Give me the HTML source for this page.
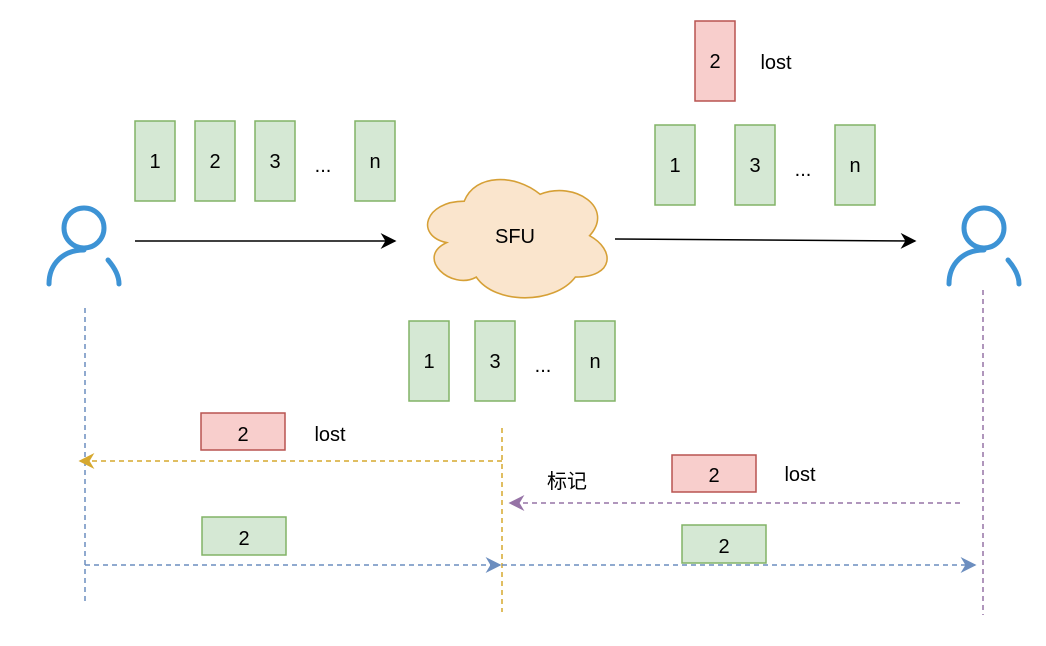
<!DOCTYPE html>
<html><head><meta charset="utf-8"><style>body{margin:0;background:#fff}svg{display:block}text{font-family:"Liberation Sans","Noto Sans CJK SC",sans-serif;font-size:20px;fill:#000}</style></head><body>
<svg width="1046" height="646" viewBox="0 0 1046 646" xmlns="http://www.w3.org/2000/svg">
<defs>
<marker id="ab" viewBox="0 0 10 10" refX="9" refY="5" markerWidth="16" markerHeight="16" orient="auto" markerUnits="userSpaceOnUse"><path d="M0,0 L10,5 L0,10 L3,5Z" fill="#000"/></marker>
<marker id="ao" viewBox="0 0 10 10" refX="9" refY="5" markerWidth="16" markerHeight="16" orient="auto" markerUnits="userSpaceOnUse"><path d="M0,0 L10,5 L0,10 L3,5Z" fill="#d6a82f"/></marker>
<marker id="ap" viewBox="0 0 10 10" refX="9" refY="5" markerWidth="16" markerHeight="16" orient="auto" markerUnits="userSpaceOnUse"><path d="M0,0 L10,5 L0,10 L3,5Z" fill="#9673a6"/></marker>
<marker id="abl" viewBox="0 0 10 10" refX="9" refY="5" markerWidth="16" markerHeight="16" orient="auto" markerUnits="userSpaceOnUse"><path d="M0,0 L10,5 L0,10 L3,5Z" fill="#6c8ebf"/></marker>
</defs>
<g fill="none" stroke="#3d93d5" stroke-width="5" stroke-linecap="round">
<circle cx="84" cy="228" r="20"/><path d="M49,284 C49,264 63,250 84,250"/><path d="M108,260 C114,267 119,275 119,284"/>
<circle cx="984" cy="228" r="20"/><path d="M949,284 C949,264 963,250 984,250"/><path d="M1008,260 C1014,267 1019,275 1019,284"/>
</g>
<g transform="translate(517,238) scale(1.1,1.15) translate(-520,-240)">
<path d="M472,208 C436,208 427,238 456,244 C427,257 460,286 483,274 C500,298 554,298 573,274 C609,274 609,250 586,238 C609,214 573,190 541,202 C518,184 482,184 472,208Z" fill="#fae5cd" stroke="#d6a036" stroke-width="1.4"/>
</g>
<text x="515" y="243" text-anchor="middle">SFU</text>
<g stroke="#82b366" fill="#d5e8d4" stroke-width="1.5">
<rect x="135" y="121" width="40" height="80"/><rect x="195" y="121" width="40" height="80"/><rect x="255" y="121" width="40" height="80"/><rect x="355" y="121" width="40" height="80"/>
<rect x="655" y="125" width="40" height="80"/><rect x="735" y="125" width="40" height="80"/><rect x="835" y="125" width="40" height="80"/>
<rect x="409" y="321" width="40" height="80"/><rect x="475" y="321" width="40" height="80"/><rect x="575" y="321" width="40" height="80"/>
<rect x="202" y="517" width="84" height="38"/><rect x="682" y="525" width="84" height="38"/>
</g>
<g stroke="#b85450" fill="#f8cecc" stroke-width="1.5">
<rect x="695" y="21" width="40" height="80"/><rect x="201" y="413" width="84" height="37"/><rect x="672" y="455" width="84" height="37"/>
</g>
<g text-anchor="middle">
<text x="155" y="168">1</text><text x="215" y="168">2</text><text x="275" y="168">3</text><text x="323" y="172">...</text><text x="375" y="168">n</text>
<text x="675" y="172">1</text><text x="755" y="172">3</text><text x="803" y="176">...</text><text x="855" y="172">n</text>
<text x="715" y="68">2</text><text x="776" y="69">lost</text>
<text x="429" y="368">1</text><text x="495" y="368">3</text><text x="543" y="372">...</text><text x="595" y="368">n</text>
<text x="243" y="441">2</text><text x="330" y="441">lost</text>
<text x="714" y="482">2</text><text x="800" y="481">lost</text>
<text x="567" y="488">标记</text>
<text x="244" y="545">2</text><text x="724" y="553">2</text>
</g>
<line x1="135" y1="241" x2="395" y2="241" stroke="#000" stroke-width="1.5" marker-end="url(#ab)"/>
<line x1="615" y1="239" x2="915" y2="241" stroke="#000" stroke-width="1.5" marker-end="url(#ab)"/>
<g fill="none" stroke-width="1.5" stroke-dasharray="5,4">
<line x1="85" y1="308" x2="85" y2="602" stroke="#6c8ebf"/>
<line x1="502" y1="428" x2="502" y2="612" stroke="#d6a82f"/>
<line x1="983" y1="290" x2="983" y2="615" stroke="#9673a6"/>
<line x1="502" y1="461" x2="80" y2="461" stroke="#d6a82f" marker-end="url(#ao)"/>
<line x1="960" y1="503" x2="510" y2="503" stroke="#9673a6" marker-end="url(#ap)"/>
<line x1="85" y1="565" x2="500" y2="565" stroke="#6c8ebf" marker-end="url(#abl)"/>
<line x1="502" y1="565" x2="975" y2="565" stroke="#6c8ebf" marker-end="url(#abl)"/>
</g>
</svg>
</body></html>
